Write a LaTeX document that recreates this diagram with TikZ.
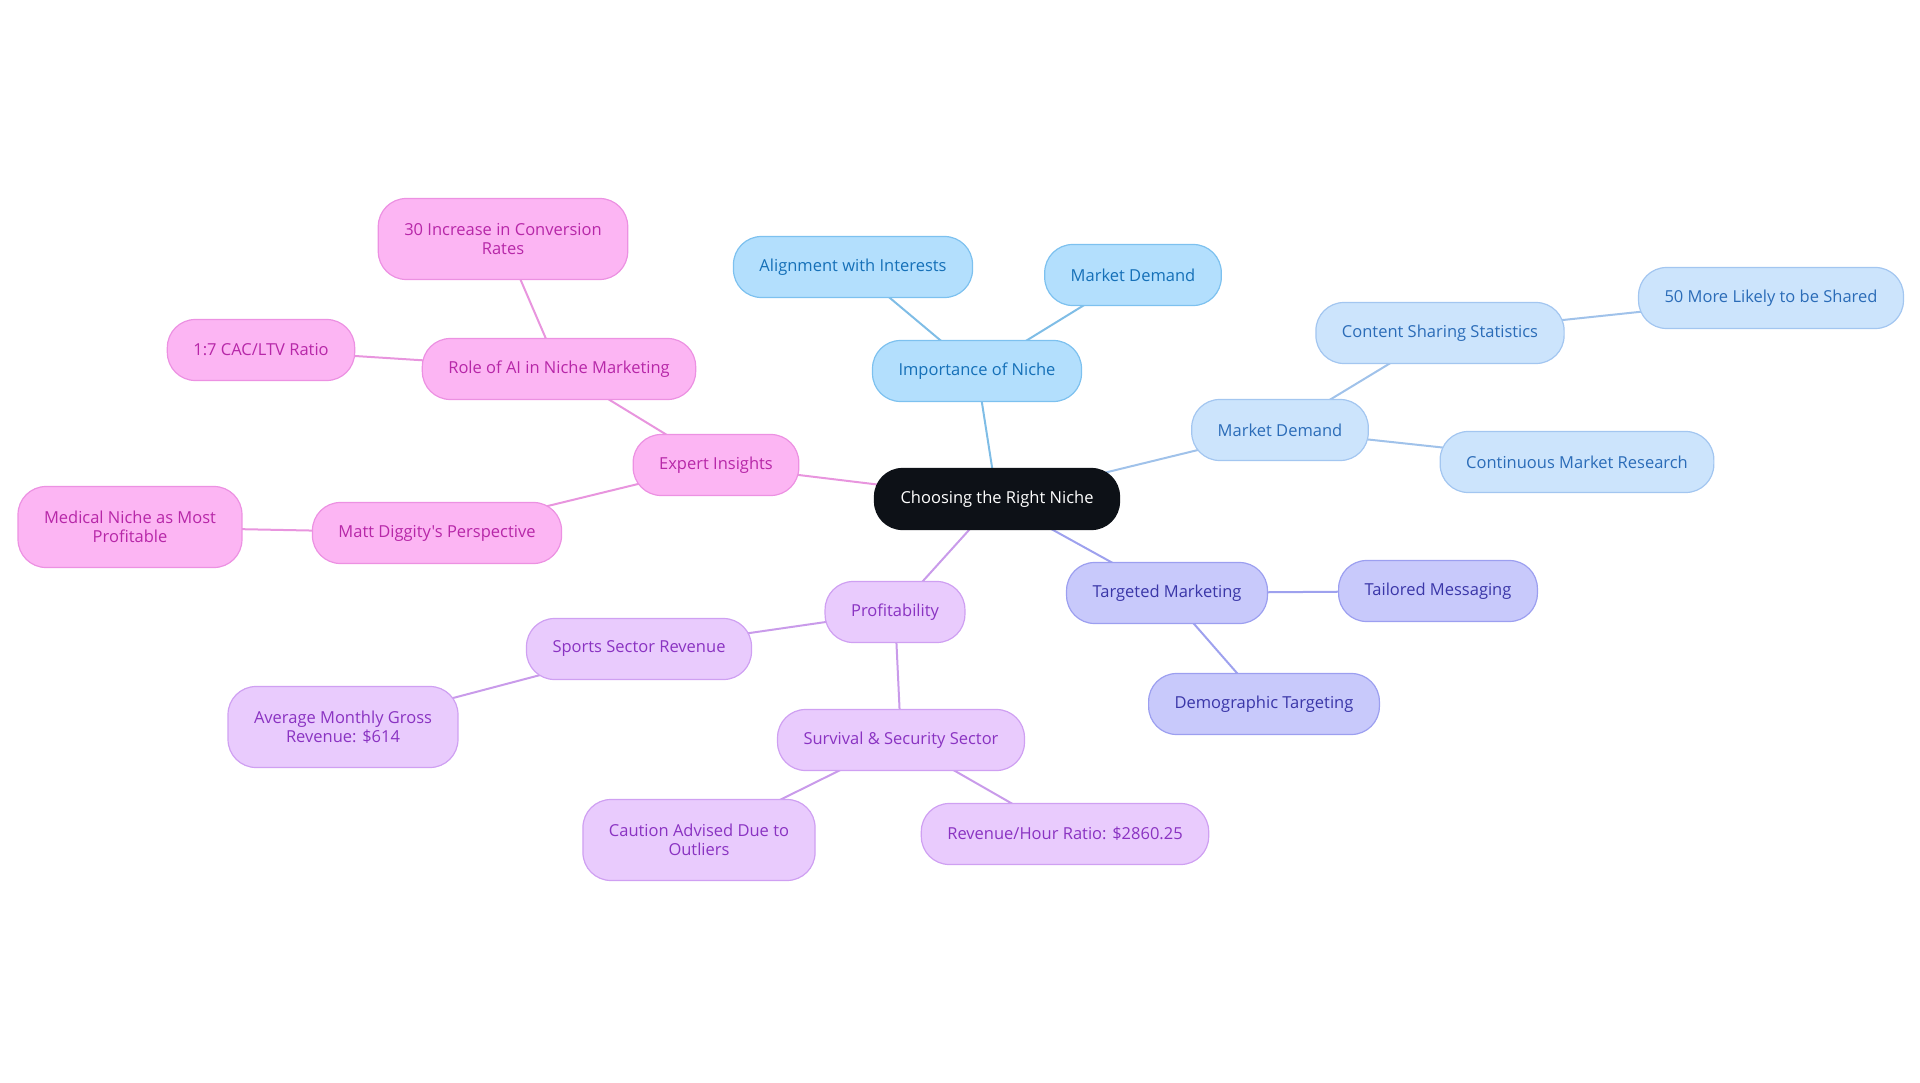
\documentclass[tikz,border=0pt]{standalone}
\usepackage{fontspec}
\usepackage{tikz}
\usetikzlibrary{backgrounds}
\newfontfamily\mmfont{Open Sans}
\definecolor{rootF}{HTML}{0D1117}
\definecolor{skyF}{HTML}{B3DFFD}
\definecolor{skyD}{HTML}{7DC1EF}
\definecolor{skyT}{HTML}{1570B8}
\definecolor{skyL}{HTML}{7FBDE6}
\definecolor{pblF}{HTML}{CCE4FC}
\definecolor{pblD}{HTML}{A3C6F0}
\definecolor{pblT}{HTML}{2B6CB8}
\definecolor{pblL}{HTML}{A0C2EA}
\definecolor{indF}{HTML}{C8C9FB}
\definecolor{indD}{HTML}{9C9FF0}
\definecolor{indT}{HTML}{3A36A8}
\definecolor{indL}{HTML}{9EA1EE}
\definecolor{purF}{HTML}{E9CBFD}
\definecolor{purD}{HTML}{CFA0F2}
\definecolor{purT}{HTML}{8A33C2}
\definecolor{purL}{HTML}{C99BEA}
\definecolor{pnkF}{HTML}{FCB5F3}
\definecolor{pnkD}{HTML}{EC91E2}
\definecolor{pnkT}{HTML}{B727A8}
\definecolor{pnkL}{HTML}{E895DE}
\tikzset{
  pill/.style={draw,rounded corners=28pt,line width=1.2pt,minimum height=61pt,
    inner xsep=26pt,align=center,font=\mmfont\fontsize{16.5}{18.5}\selectfont},
  pill2/.style={pill,minimum height=81pt},
  rootn/.style={pill,fill=rootF,draw=rootF,text=white},
  skyn/.style={pill,fill=skyF,draw=skyD,text=skyT},
  pbln/.style={pill,fill=pblF,draw=pblD,text=pblT},
  indn/.style={pill,fill=indF,draw=indD,text=indT},
  purn/.style={pill,fill=purF,draw=purD,text=purT},
  pnkn/.style={pill,fill=pnkF,draw=pnkD,text=pnkT},
  skye/.style={line width=2pt,draw=skyL},
  pble/.style={line width=2pt,draw=pblL},
  inde/.style={line width=2pt,draw=indL},
  pure/.style={line width=2pt,draw=purL},
  pnke/.style={line width=2pt,draw=pnkL}
}
\begin{document}
\begin{tikzpicture}[x=1pt,y=-1pt]
\useasboundingbox (0,0) rectangle (1920,1083);
% centre
\node[rootn] (root) at (997,499) {Choosing the Right Niche};
% importance
\node[skyn] (imp) at (977,371) {Importance of Niche};
\node[skyn] (align) at (853,267) {Alignment with Interests};
\node[skyn] (mdtop) at (1133,275) {Market Demand};
% market demand
\node[pbln] (mdr) at (1280,430) {Market Demand};
\node[pbln] (css) at (1440,333) {Content Sharing Statistics};
\node[pbln] (fifty) at (1771,298) {50 More Likely to be Shared};
\node[pbln] (cmr) at (1577,462) {Continuous Market Research};
% targeted marketing
\node[indn] (tm) at (1167,593) {Targeted Marketing};
\node[indn] (tmsg) at (1438,591) {Tailored Messaging};
\node[indn] (demo) at (1264,704) {Demographic Targeting};
% profitability
\node[purn] (prof) at (895,612) {Profitability};
\node[purn] (ssr) at (639,649) {Sports Sector Revenue};
\node[purn,pill2] (amg) at (343,727) {Average Monthly Gross\\Revenue: \$614};
\node[purn] (sss) at (901,740) {Survival \& Security Sector};
\node[purn,pill2] (cau) at (699,840) {Caution Advised Due to\\Outliers};
\node[purn] (rhr) at (1065,834) {Revenue/Hour Ratio: \$2860.25};
% expert insights
\node[pnkn] (ei) at (716,465) {Expert Insights};
\node[pnkn] (rai) at (559,369) {Role of AI in Niche Marketing};
\node[pnkn,pill2] (inc) at (503,239) {30 Increase in Conversion\\Rates};
\node[pnkn] (cac) at (261,350) {1:7 CAC/LTV Ratio};
\node[pnkn] (matt) at (437,533) {Matt Diggity's Perspective};
\node[pnkn,pill2] (med) at (130,527) {Medical Niche as Most\\Profitable};
\begin{scope}[on background layer]
\draw[skye] (root.center) -- (imp.center);
\draw[skye] (imp.center) -- (align.center);
\draw[skye] (imp.center) -- (mdtop.center);
\draw[pble] (root.center) -- (mdr.center);
\draw[pble] (mdr.center) -- (css.center);
\draw[pble] (css.center) -- (fifty.center);
\draw[pble] (mdr.center) -- (cmr.center);
\draw[inde] (root.center) -- (tm.center);
\draw[inde] (tm.center) -- (tmsg.center);
\draw[inde] (tm.center) -- (demo.center);
\draw[pure] (root.center) -- (prof.center);
\draw[pure] (prof.center) -- (ssr.center);
\draw[pure] (ssr.center) -- (amg.center);
\draw[pure] (prof.center) -- (sss.center);
\draw[pure] (sss.center) -- (cau.center);
\draw[pure] (sss.center) -- (rhr.center);
\draw[pnke] (root.center) -- (ei.center);
\draw[pnke] (ei.center) -- (rai.center);
\draw[pnke] (rai.center) -- (inc.center);
\draw[pnke] (rai.center) -- (cac.center);
\draw[pnke] (ei.center) -- (matt.center);
\draw[pnke] (matt.center) -- (med.center);
\end{scope}
\end{tikzpicture}
\end{document}
